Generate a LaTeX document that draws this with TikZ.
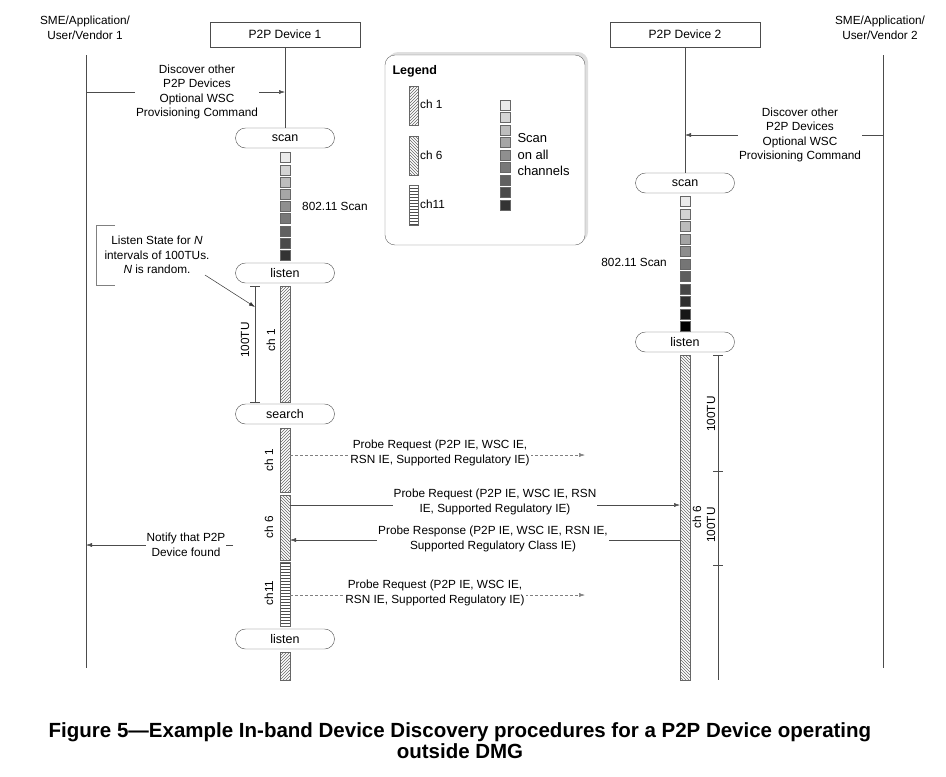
\documentclass[tikz,border=0pt]{standalone}
\usepackage{fontspec}
\setmainfont{Liberation Sans}
\usetikzlibrary{patterns,arrows.meta,shadows}
\begin{document}
\begin{tikzpicture}[x=1pt,y=-1pt,
  txt/.style={font=\fontsize{11.8}{14.6}\selectfont,align=center,inner sep=1pt},
  lbox/.style={draw=black!70,minimum width=150,minimum height=25,font=\fontsize{12}{14}\selectfont},
  state/.style={draw=black!70,rounded corners=10,minimum width=99,minimum height=20,inner sep=0,font=\fontsize{12.5}{14}\selectfont},
  life/.style={draw=black!70,line width=0.5},
  msg/.style={draw=black!70,-{Latex[length=6,width=4]},line width=0.5},
  dmsg/.style={msg,densely dashed,draw=black!50},
  bar1/.style={draw=black!60,pattern=north east lines,pattern color=black!60,line width=0.4},
  bar6/.style={draw=black!60,pattern=north west lines,pattern color=black!60,line width=0.4},
  bar11/.style={draw=black!60,pattern=horizontal lines,pattern color=black!70,line width=0.4},
  sq/.style={draw=black!60,line width=0.4,minimum size=10,inner sep=0},
  rot/.style={txt,rotate=90}]
\useasboundingbox (0,0) rectangle (946,777);
% headers
\node[txt] (sme1) at (85,28) {SME/Application/\\User/Vendor 1};
\node[txt] (sme2) at (880,28) {SME/Application/\\User/Vendor 2};
\node[lbox] (d1) at (285,34.5) {P2P Device 1};
\node[lbox] (d2) at (685,34.5) {P2P Device 2};
\coordinate (s1t) at (86,55); \coordinate (s1b) at (86,668);
\coordinate (s2t) at (883,55); \coordinate (s2b) at (883,668);
\draw[life] (s1t) -- (s1b); \draw[life] (s2t) -- (s2b);
% device 1
\node[state] (scan1) at (285,138) {scan};
\node[state] (listen1) at (285,273) {listen};
\node[state] (search1) at (285,414) {search};
\node[state] (listen3) at (285,639) {listen};
\draw[life] (d1) -- (scan1);
\coordinate (a1s) at (86,92); \coordinate (a1e) at (285,92);
\draw[msg] (a1s) -- (a1e);
\node[txt,fill=white] (t1) at (197,92) {Discover other\\P2P Devices\\Optional WSC\\Provisioning Command};
\foreach \i [evaluate=\i as \g using {8+\i*9}] in {0,...,8}
  \node[sq,fill=black!\g] (q\i) at (285,157.5+\i*12.2) {};
\node[txt,anchor=west] (sc1) at (301,206) {802.11 Scan};
\draw[bar1] (280,286) rectangle (290,402);
\coordinate (tu1a) at (255,286); \coordinate (tu1b) at (255,402);
\draw[life] (tu1a) -- (tu1b);
\draw[life] (250,286) -- (260,286) (250,402) -- (260,402);
\node[rot] (tu1) at (245,340) {100TU};
\node[rot] (c1a) at (271,340) {ch 1};
\draw[draw=black!50] (115,225) -- (96,225) -- (96,285) -- (115,285);
\node[txt] (ls) at (157,255) {Listen State for \textit{N}\\intervals of 100TUs.\\\textit{N} is random.};
\coordinate (lsa) at (205,275); \coordinate (lsb) at (255,307);
\draw[msg,draw=black!80] (lsa) -- (lsb);
\draw[bar1] (280,428) rectangle (290,492);
\draw[bar6] (280,495) rectangle (290,560);
\draw[bar11] (280,562) rectangle (290,626);
\draw[bar1] (280,652) rectangle (290,680);
\node[rot] (c1b) at (269,460) {ch 1};
\node[rot] (c6b) at (269,527) {ch 6};
\node[rot] (c11b) at (269,593) {ch11};
% messages
\coordinate (m1s) at (290,455); \coordinate (m1e) at (585,455);
\draw[dmsg] (m1s) -- (m1e);
\node[txt,fill=white] (m1) at (440,453) {Probe Request (P2P IE, WSC IE,\\RSN IE, Supported Regulatory IE)};
\coordinate (m2s) at (290,505); \coordinate (m2e) at (680,505);
\draw[msg] (m2s) -- (m2e);
\node[txt,fill=white] (m2) at (495,502) {Probe Request (P2P IE, WSC IE, RSN\\IE, Supported Regulatory IE)};
\coordinate (m3s) at (680,540); \coordinate (m3e) at (290,540);
\draw[msg] (m3s) -- (m3e);
\node[txt,fill=white] (m3) at (493,539) {Probe Response (P2P IE, WSC IE, RSN IE,\\Supported Regulatory Class IE)};
\coordinate (m4s) at (233,545); \coordinate (m4e) at (86,545);
\draw[msg] (m4s) -- (m4e);
\node[txt,fill=white] (m4) at (186,545) {Notify that P2P\\Device found};
\coordinate (m5s) at (290,595); \coordinate (m5e) at (585,595);
\draw[dmsg] (m5s) -- (m5e);
\node[txt,fill=white] (m5) at (435,593) {Probe Request (P2P IE, WSC IE,\\RSN IE, Supported Regulatory IE)};
% device 2
\node[state] (scan2) at (685,183) {scan};
\node[state] (listen2) at (685,342) {listen};
\draw[life] (d2) -- (scan2);
\coordinate (a2s) at (883,135); \coordinate (a2e) at (685,135);
\draw[msg] (a2s) -- (a2e);
\node[txt,fill=white] (t2) at (800,135) {Discover other\\P2P Devices\\Optional WSC\\Provisioning Command};
\foreach \i [evaluate=\i as \g using {8+\i*9.2}] in {0,...,10}
  \node[sq,fill=black!\g] (r\i) at (685,201.5+\i*12.5) {};
\node[txt,anchor=east] (sc2) at (668,262) {802.11 Scan};
\draw[bar6] (680,355) rectangle (690,680);
\coordinate (tu2a) at (718,355); \coordinate (tu2b) at (718,680);
\draw[life] (tu2a) -- (tu2b);
\draw[life] (713,355) -- (723,355) (713,471) -- (723,471) (713,565) -- (723,565);
\node[rot] (tu2) at (711,414) {100TU};
\node[rot] (tu3) at (711,525) {100TU};
\node[rot] (c62) at (697,517) {ch 6};
% legend
\draw[rounded corners=10,draw=black!60,fill=white,drop shadow={opacity=0.25,shadow xshift=3,shadow yshift=-3}] (385,55) rectangle (585,245);
\node[font=\fontsize{12.5}{14}\selectfont\bfseries,anchor=west] (lg) at (389,71) {Legend};
\draw[bar1] (409,86) rectangle (418,125);
\draw[bar6] (409,136) rectangle (418,175);
\draw[bar11] (409,185) rectangle (418,225);
\node[txt,anchor=west] (l1) at (419,104) {ch 1};
\node[txt,anchor=west] (l6) at (419,155) {ch 6};
\node[txt,anchor=west] (l11) at (419,204) {ch11};
\foreach \i [evaluate=\i as \g using {8+\i*9}] in {0,...,8}
  \node[sq,fill=black!\g] (k\i) at (505,105+\i*12.5) {};
\node[font=\fontsize{13}{16.5}\selectfont,align=left,anchor=west] (ls2) at (514,155) {Scan\\on all\\channels};
% caption
\node[font=\fontsize{20.5}{21}\selectfont\bfseries,align=center] (cap) at (460,741) {Figure 5—Example In-band Device Discovery procedures for a P2P Device operating\\outside DMG};
\end{tikzpicture}
\end{document}
